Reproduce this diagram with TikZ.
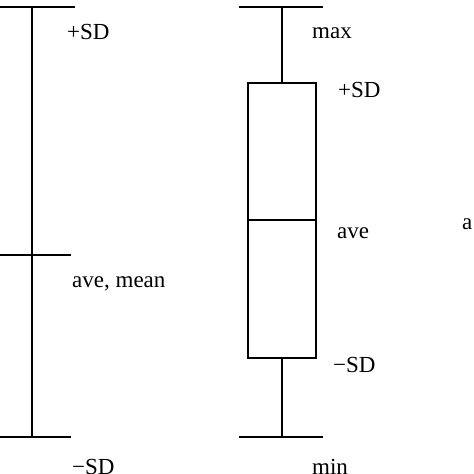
\documentclass[tikz,border=0pt]{standalone}
\usepackage{fontspec}
\setmainfont{Liberation Serif}
\begin{document}
\begin{tikzpicture}[x=1pt,y=-1pt,
  stroke/.style={line width=2pt,black},
  lbl/.style={anchor=base west,inner sep=0pt,font=\fontsize{23}{27}\selectfont}]
\clip (0,0) rectangle (474,474);
\fill[white] (0,0) rectangle (474,474);
% left bar
\coordinate (LT) at (32,7);
\coordinate (LB) at (32,437);
\draw[stroke] (LT) -- (LB);
\draw[stroke] (-2,7) -- (75,7);
\draw[stroke] (-2,255) -- (71,255);
\draw[stroke] (-2,437) -- (71,437);
\node[lbl] (lsdp) at (67,39) {+SD};
\node[lbl] (lave) at (72,287) {ave, mean};
\node[lbl] (lsdm) at (72,474) {−SD};
% right box plot
\node[draw,line width=2pt,minimum width=68pt,minimum height=275pt,inner sep=0pt,anchor=north west] (box) at (247,82) {};
\coordinate (RT) at (box.north |- 0,7);
\coordinate (RB) at (box.south |- 0,437);
\draw[stroke] (RT) -- (box.north);
\draw[stroke] (box.south) -- (RB);
\draw[stroke] (239,7) -- (323,7);
\draw[stroke] (239,437) -- (323,437);
\draw[stroke] (box.west |- 0,220) -- (box.east |- 0,220);
\node[lbl] (rmax) at (312,38) {max};
\node[lbl] (rsdp) at (338,97) {+SD};
\node[lbl] (rave) at (337,238) {ave};
\node[lbl] (rsdm) at (333,372) {−SD};
\node[lbl] (rmin) at (312,474) {min};
\node[lbl] (ra) at (462,229) {a};
\end{tikzpicture}
\end{document}
